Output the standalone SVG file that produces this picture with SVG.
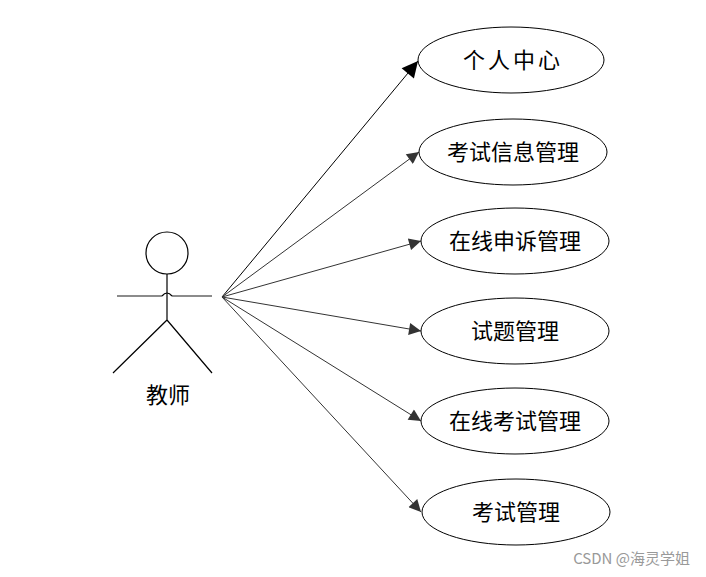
<svg xmlns="http://www.w3.org/2000/svg" width="706" height="577" viewBox="0 0 706 577">
<style>
.e{fill:#fff;stroke:#000;stroke-width:1}
.t{font-family:"Noto Sans CJK SC",sans-serif;font-size:22px;text-anchor:middle;fill:#000}
.c{stroke:#333;stroke-width:1;fill:none;marker-end:url(#a)}
.s{stroke:#000;stroke-width:1.2;fill:none}
</style>
<defs>
<marker id="a" viewBox="0 0 10 10" refX="10" refY="5" markerWidth="14" markerHeight="12" markerUnits="userSpaceOnUse" orient="auto"><path d="M0,0L10,5L0,10z" fill="#333"/></marker>
<marker id="b" viewBox="0 0 10 10" refX="10" refY="5" markerWidth="20" markerHeight="16" markerUnits="userSpaceOnUse" orient="auto"><path d="M0,0L10,5L0,10z" fill="#000"/></marker>
</defs>
<rect width="706" height="577" fill="#fff"/>
<g id="actor">
<circle class="s" cx="167" cy="253" r="21"/>
<path class="s" d="M167,274V320M113,373L167,320L212,373"/>
<path d="M117,296H162M172,296H212" stroke="#666" stroke-width="1.5"/>
<path class="s" d="M162,296q5,-6 10,0"/>
<text class="t" x="168" y="403">教师</text>
</g>
<g id="connectors">
<path d="M222,297L418,61" stroke="#000" fill="none" marker-end="url(#b)"/>
<path class="c" d="M222,297L419,152"/>
<path class="c" d="M222,297L421,241"/>
<path class="c" d="M222,297L421,331"/>
<path class="c" d="M222,297L421,421"/>
<path class="c" d="M222,297L421,512"/>
</g>
<g id="u1"><ellipse class="e" cx="511" cy="60" rx="93" ry="33"/><text class="t" x="513" y="68" letter-spacing="3">个人中心</text></g>
<g id="u2"><ellipse class="e" cx="513" cy="152" rx="94" ry="33"/><text class="t" x="513" y="160">考试信息管理</text></g>
<g id="u3"><ellipse class="e" cx="515" cy="241" rx="94" ry="33"/><text class="t" x="515" y="249">在线申诉管理</text></g>
<g id="u4"><ellipse class="e" cx="515" cy="331" rx="94" ry="33"/><text class="t" x="515" y="339">试题管理</text></g>
<g id="u5"><ellipse class="e" cx="515" cy="421" rx="94" ry="33"/><text class="t" x="515" y="429">在线考试管理</text></g>
<g id="u6"><ellipse class="e" cx="516" cy="512" rx="94" ry="33"/><text class="t" x="516" y="520">考试管理</text></g>
<text x="690" y="564" font-family="'Noto Sans CJK SC',sans-serif" font-size="15" fill="#999" text-anchor="end">CSDN @海灵学姐</text>
</svg>
